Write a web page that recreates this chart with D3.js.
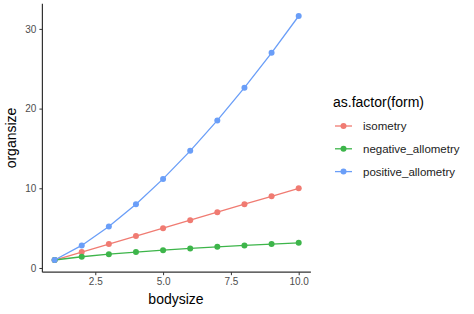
<!DOCTYPE html>
<html><head><meta charset="utf-8">
<script src="https://cdn.jsdelivr.net/npm/d3@7"></script>
<style>body{margin:0;background:#fff}text{font-family:"Liberation Sans",Arial,sans-serif}</style>
</head><body><svg id="c" width="474" height="314"></svg>
<script>
const bodysize = [1,2,3,4,5,6,7,8,9,10];
const isometry = [1,2,3,4,5,6,7,8,9,10];
const negative_allometry = [1,1.41,1.73,2,2.24,2.45,2.65,2.83,3,3.16];
const positive_allometry = [1,2.83,5.2,8,11.18,14.7,18.52,22.63,27,31.62];
const seriesNames = ["isometry","negative_allometry","positive_allometry"];
const seriesColors = ["#F07B72","#3DB54A","#6A9EF8"];
const xTicks = [2.5,5.0,7.5,10.0];
const yTicks = [0,10,20,30];

const series = [isometry, negative_allometry, positive_allometry];
const svg = d3.select("#c");
const x = d3.scaleLinear().domain([0.55,10.45]).range([42.4,310.9]);
const y = d3.scaleLinear().domain([-0.53,33.15]).range([272.2,3.8]);

const g = svg.append("g");
series.forEach((vals,i)=>{
  const pts = bodysize.map((b,j)=>[b,vals[j]]);
  g.append("path").attr("d",d3.line().x(d=>x(d[0])).y(d=>y(d[1]))(pts))
    .attr("fill","none").attr("stroke",seriesColors[i]).attr("stroke-width",1.3);
  g.selectAll(null).data(pts).enter().append("circle")
    .attr("cx",d=>x(d[0])).attr("cy",d=>y(d[1])).attr("r",3).attr("fill",seriesColors[i]);
});

const xa = svg.append("g").attr("transform","translate(0,272.2)")
  .call(d3.axisBottom(x).tickValues(xTicks).tickFormat(d3.format(".1f")).tickSize(3).tickPadding(3));
const ya = svg.append("g").attr("transform","translate(42.4,0)")
  .call(d3.axisLeft(y).tickValues(yTicks).tickSize(3).tickPadding(3));
[xa,ya].forEach(a=>{
  a.select(".domain").attr("stroke","#333").attr("stroke-width",1.2);
  a.selectAll(".tick line").attr("stroke","#333");
  a.selectAll(".tick text").attr("fill","#4D4D4D").style("font-size","10px").style("font-family","Liberation Sans, Arial, sans-serif");
});
xa.select(".domain").attr("d",`M${x.range()[0]},0H${x.range()[1]}`);
ya.select(".domain").attr("d",`M0,${y.range()[0]}V${y.range()[1]}`);

svg.append("text").attr("x",176).attr("y",304).attr("text-anchor","middle")
  .style("font-size","14px").attr("fill","#000").text("bodysize");
svg.append("text").attr("transform","translate(16,138) rotate(-90)").attr("text-anchor","middle")
  .style("font-size","14px").attr("fill","#000").text("organsize");

const lg = svg.append("g");
lg.append("text").attr("x",333).attr("y",107).style("font-size","14px").attr("fill","#000").text("as.factor(form)");
seriesNames.forEach((n,i)=>{
  const cy = 126 + i*22.8;
  lg.append("line").attr("x1",335).attr("x2",352).attr("y1",cy).attr("y2",cy).attr("stroke",seriesColors[i]).attr("stroke-width",1.3);
  lg.append("circle").attr("cx",343.5).attr("cy",cy).attr("r",3).attr("fill",seriesColors[i]);
  lg.append("text").attr("x",363).attr("y",cy+4).style("font-size","11.5px").attr("fill","#222").text(n);
});
</script></body></html>
